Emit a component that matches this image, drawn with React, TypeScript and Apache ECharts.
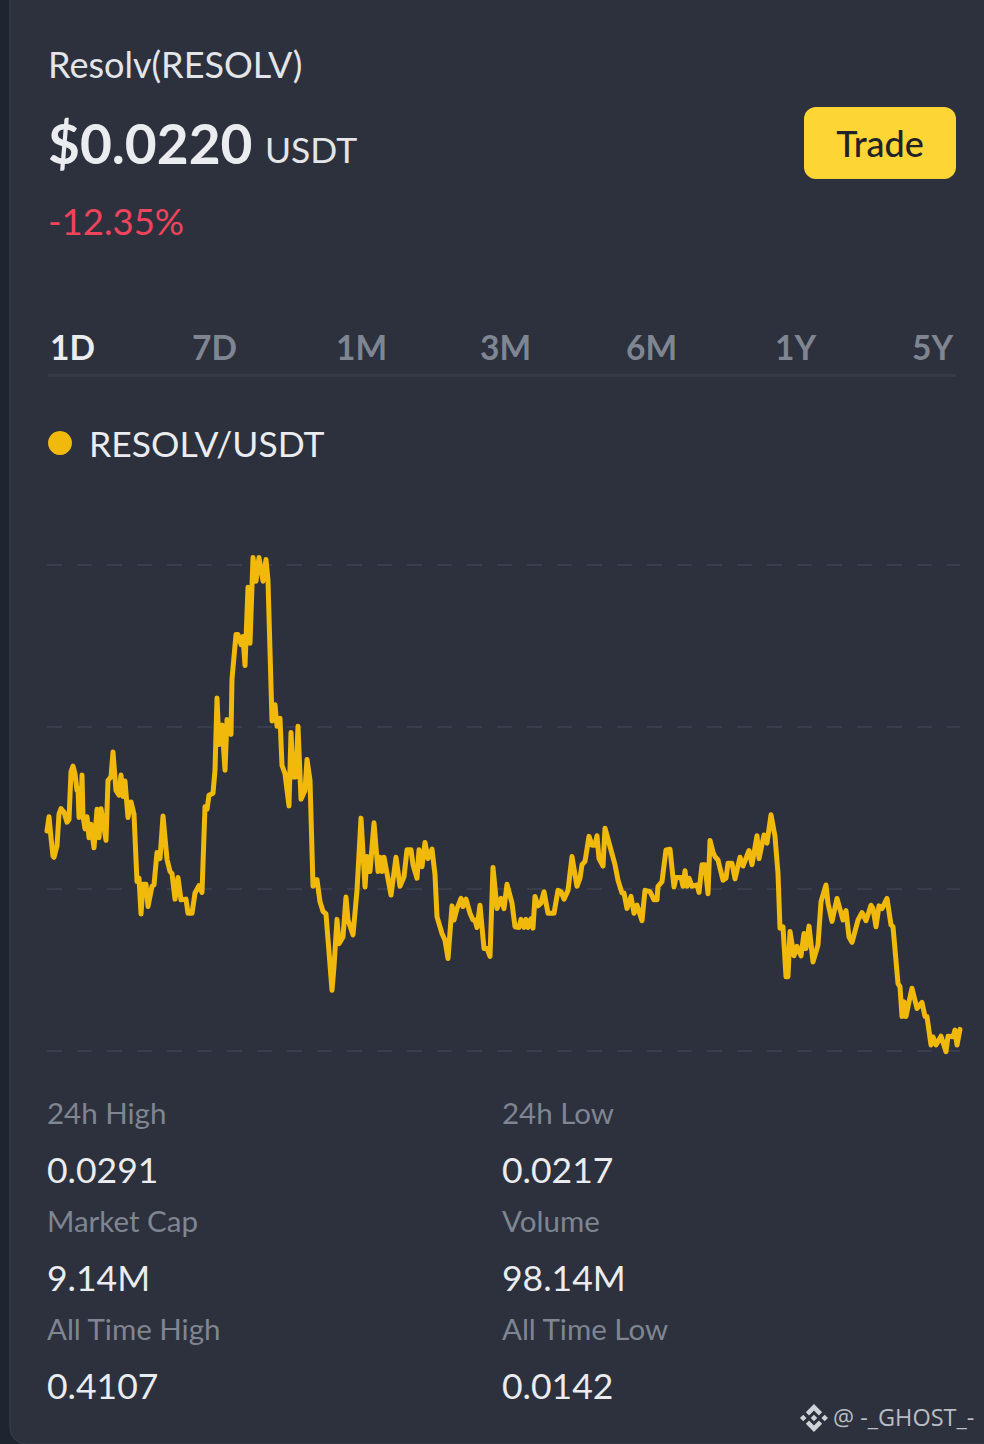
import React, { useEffect, useRef } from "react";
import * as echarts from "echarts";

const pairName = "RESOLV/USDT";
const coinTitle = "Resolv(RESOLV)";
const lastPrice = "$0.0220";
const quoteUnit = "USDT";
const changeText = "-12.35%";
const tradeLabel = "Trade";
const watermark = "@ -_GHOST_-";
const rangeTabs = ["1D", "7D", "1M", "3M", "6M", "1Y", "5Y"];
const statLabels = ["24h High", "24h Low", "Market Cap", "Volume", "All Time High", "All Time Low"];
const statValues = ["0.0291", "0.0217", "9.14M", "98.14M", "0.4107", "0.0142"];
const gridPrices = [0.0218, 0.0242, 0.0266, 0.029];

// [elapsed sample, price]
const pricePoints = [
  [0,0.02506],[2,0.02527],[4,0.02496],[6,0.02469],[7,0.02467],[10,0.02484],[12,0.02531],[14,0.02539],[17,0.02534],[20,0.02519],
  [22,0.02523],[24,0.02594],[26,0.02602],[28,0.02591],[30,0.02566],[31,0.02569],[32,0.02526],[34,0.02528],[35,0.02589],[36,0.02528],
  [38,0.02509],[40,0.02527],[42,0.02496],[44,0.02516],[47,0.02481],[50,0.02538],[52,0.02496],[54,0.02539],[59,0.02492],[61,0.02581],
  [64,0.02586],[66,0.02623],[69,0.02566],[72,0.02559],[74,0.02589],[76,0.02557],[78,0.0258],[81,0.02526],[84,0.02549],[87,0.02531],
  [90,0.02431],[92,0.02436],[94,0.02383],[96,0.02427],[99,0.02427],[101,0.02394],[105,0.02424],[107,0.02426],[110,0.02474],[113,0.02465],
  [116,0.02528],[120,0.02464],[123,0.02446],[125,0.02443],[128,0.02405],[131,0.02437],[134,0.02404],[139,0.02405],[141,0.02384],[145,0.02384],
  [148,0.02414],[152,0.02425],[155,0.02415],[158,0.02542],[160,0.02538],[162,0.02559],[166,0.02562],[168,0.02596],[170,0.02703],[172,0.02634],
  [175,0.02663],[178,0.02596],[180,0.02671],[184,0.02649],[185,0.02731],[189,0.02797],[191,0.02797],[194,0.02782],[196,0.02794],[198,0.02751],
  [201,0.02867],[203,0.02784],[206,0.02911],[209,0.02876],[212,0.02911],[216,0.02876],[219,0.02908],[221,0.02877],[225,0.02669],[228,0.02693],
  [230,0.02661],[233,0.02673],[235,0.02603],[238,0.02591],[242,0.02543],[244,0.02652],[246,0.02586],[249,0.02586],[251,0.02661],[254,0.02553],
  [258,0.02566],[260,0.02612],[263,0.02581],[266,0.02424],[270,0.02434],[273,0.02401],[276,0.02387],[279,0.02383],[285,0.0227],[287,0.02305],
  [290,0.02375],[292,0.02339],[296,0.02349],[299,0.02408],[301,0.02374],[306,0.02352],[310,0.02418],[314,0.02525],[318,0.02423],[320,0.02468],
  [323,0.02446],[327,0.02518],[331,0.02446],[333,0.02467],[335,0.02446],[337,0.02467],[344,0.02411],[349,0.02467],[353,0.02424],[357,0.02438],
  [360,0.02478],[364,0.02478],[366,0.02456],[370,0.02436],[372,0.02478],[375,0.02453],[378,0.02489],[381,0.02465],[385,0.02479],[388,0.02441],
  [390,0.02379],[395,0.02354],[398,0.02344],[401,0.02317],[405,0.02395],[407,0.02374],[410,0.02391],[414,0.02406],[416,0.02394],[419,0.02405],
  [423,0.02384],[426,0.02374],[428,0.02374],[430,0.02363],[433,0.02396],[437,0.02332],[440,0.02332],[443,0.0232],[446,0.02452],[450,0.02391],
  [454,0.02406],[457,0.02391],[460,0.02427],[465,0.02399],[468,0.02364],[472,0.02363],[474,0.02375],[477,0.02363],[479,0.02375],[481,0.02363],
  [484,0.02376],[486,0.02362],[488,0.02409],[491,0.02395],[494,0.02399],[497,0.02416],[501,0.02384],[507,0.02384],[511,0.02418],[514,0.02416],
  [517,0.02405],[521,0.02418],[525,0.02468],[530,0.02424],[533,0.02436],[535,0.02456],[538,0.02461],[542,0.02498],[545,0.02485],[548,0.02485],
  [550,0.02499],[552,0.02465],[556,0.02454],[558,0.0251],[563,0.02483],[568,0.02456],[571,0.02433],[575,0.02414],[577,0.02414],[580,0.02391],
  [584,0.02409],[587,0.02384],[590,0.02396],[595,0.02373],[598,0.02418],[603,0.02416],[607,0.02404],[610,0.02404],[611,0.02424],[615,0.02431],
  [619,0.02478],[623,0.02479],[627,0.02423],[629,0.02437],[631,0.02437],[634,0.02437],[636,0.02424],[638,0.02447],[640,0.02424],[642,0.02436],
  [645,0.02424],[650,0.02426],[652,0.02415],[655,0.02456],[658,0.02456],[661,0.02413],[663,0.02492],[666,0.02475],[668,0.02468],[671,0.02463],
  [676,0.02433],[679,0.02436],[681,0.02458],[685,0.02458],[688,0.02435],[693,0.02467],[696,0.02454],[702,0.02477],[705,0.02456],[710,0.02499],
  [712,0.02465],[717,0.025],[720,0.02488],[724,0.0253],[728,0.02498],[731,0.02443],[733,0.02362],[736,0.02364],[739,0.0229],[741,0.0229],
  [743,0.02357],[747,0.02321],[750,0.02335],[754,0.02321],[757,0.02354],[759,0.02332],[762,0.02365],[766,0.02312],[771,0.02337],[774,0.02401],
  [779,0.02426],[781,0.02399],[785,0.02372],[790,0.02406],[796,0.02374],[799,0.02388],[802,0.02349],[805,0.02341],[811,0.02374],[815,0.02385],
  [819,0.02373],[824,0.02396],[826,0.02391],[829,0.02364],[832,0.02395],[835,0.02391],[840,0.02406],[844,0.02367],[846,0.02364],[851,0.0228],
  [853,0.02275],[855,0.02231],[857,0.02253],[859,0.02231],[862,0.02253],[865,0.02273],[870,0.02243],[875,0.02252],[878,0.02231],[880,0.02231],
  [884,0.02189],[886,0.02201],[889,0.02189],[894,0.02202],[899,0.02179],[901,0.02202],[906,0.02201],[908,0.02211],[910,0.02189],[913,0.02212],
];

const BG = "#2c313d";
const PAGE = "#1e252f";
const FONT = "Lato, 'Open Sans', sans-serif";
const tabX = [50, 192, 336, 480, 626, 775, 912];
const LOGO_D =
  "M16 4 L23 11 L20.2 13.8 L16 9.6 L11.8 13.8 L9 11 Z M16 28 L9 21 L11.8 18.2 L16 22.4 L20.2 18.2 L23 21 Z M4 16 L6.8 13.2 L9.6 16 L6.8 18.8 Z M22.4 16 L25.2 13.2 L28 16 L25.2 18.8 Z M13.2 16 L16 13.2 L18.8 16 L16 18.8 Z";

function txt(text: string, x: number, y: number, fontSize: number, fill: string, fontWeight: any = 400, textAlign: any = "left", fontFamily = FONT) {
  return { type: "text", x, y, z: 10, style: { text, x: 0, y: 0, fontSize, fill, fontWeight, fontFamily, textAlign, textVerticalAlign: "middle" } };
}

export default function App() {
  const ref = useRef<HTMLDivElement>(null);
  useEffect(() => {
    document.body.style.margin = "0";
    document.body.style.background = PAGE;
    echarts.graphic.registerShape("binanceLogo", echarts.graphic.extendPath(LOGO_D, {}) as any);
    const chart = echarts.init(ref.current!, undefined, { renderer: "svg" });
    const stats: any[] = [];
    statLabels.forEach((label, i) => {
      const x = i % 2 === 0 ? 47 : 502;
      const row = Math.floor(i / 2);
      stats.push(txt(label, x, 1112 + row * 108, 29.5, "#7f8591"));
      stats.push(txt(statValues[i], x, 1169 + row * 108, 35.5, "#eaecef"));
    });
    chart.setOption({
      animation: false,
      backgroundColor: PAGE,
      grid: { left: 47, right: 24, top: 538, bottom: 1444 - 1064.5, containLabel: false },
      legend: {
        show: true, left: 43, top: 420, icon: "circle", itemWidth: 24, itemHeight: 24,
        selectedMode: false,
        data: [pairName],
        textStyle: { color: "#eaecef", fontSize: 35.5, fontFamily: FONT, padding: [0, 0, 0, 12] },
      },
      xAxis: { type: "value", min: 0, max: 913, show: false },
      yAxis: {
        type: "value", min: 0.0216, max: 0.0294,
        axisLine: { show: false },
        axisLabel: { show: false },
        axisTick: { show: false, customValues: gridPrices },
        splitLine: { show: true, lineStyle: { color: "#383e4b", width: 2, type: [15, 15] } },
      },
      series: [{
        name: pairName, type: "line", showSymbol: false, symbol: "none", smooth: false, clip: false,
        data: pricePoints,
        itemStyle: { color: "#f0b90b" },
        lineStyle: { color: "#f0b90b", width: 5, join: "round", cap: "round" },
      }],
      graphic: [
        { type: "rect", z: -10, shape: { x: 10, y: -20, width: 994, height: 1464, r: 16 }, style: { fill: BG, stroke: "#3a404c", lineWidth: 1 }, silent: true },
        txt(coinTitle, 48, 64, 36, "#e3e5e9"),
        txt(lastPrice, 48, 143, 55, "#eaecef", 700),
        txt(quoteUnit, 265, 149, 35.5, "#e3e5e9"),
        txt(changeText, 48, 221, 36.5, "#f0435c"),
        { type: "rect", z: 9, shape: { x: 804, y: 107, width: 152, height: 72, r: 12 }, style: { fill: "#fdd635" } },
        txt(tradeLabel, 880, 143, 36, "#1e2329", 500, "center"),
        ...rangeTabs.map((t, i) => txt(t, tabX[i], 347, 33.5, i === 0 ? "#eaecef" : "#7f8591", 700)),
        { type: "rect", z: 9, shape: { x: 48, y: 374, width: 908, height: 3 }, style: { fill: "#353a46" } },
        ...stats,
        { type: "binanceLogo", z: 10, x: 795.3, y: 1399.3, scaleX: 1.167, scaleY: 1.167, style: { fill: "#cfd2d6" } },
        txt(watermark, 833, 1417, 23.5, "#b9bdc4", 400, "left", "'Open Sans', sans-serif"),
      ],
    });
    return () => chart.dispose();
  }, []);
  return <div ref={ref} style={{ position: "absolute", left: 0, top: 0, width: 984, height: 1444 }} />;
}
